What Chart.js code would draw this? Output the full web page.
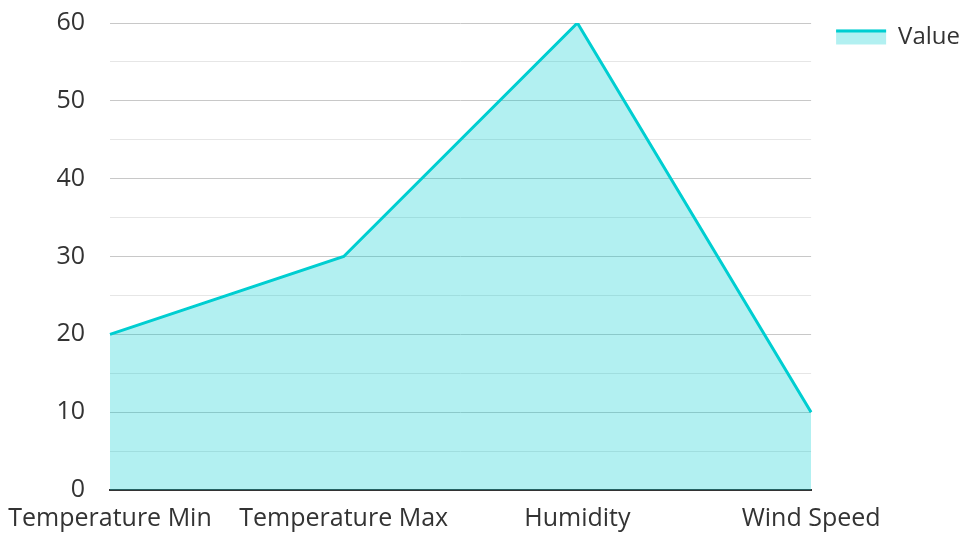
<!DOCTYPE html>
<html>
<head>
<meta charset="utf-8">
<script src="https://cdn.jsdelivr.net/npm/chart.js@4"></script>
<style>
html,body{margin:0;padding:0;background:#fff;}
#wrap{width:961px;height:533px;}
</style>
</head>
<body>
<div id="wrap"><canvas id="c" width="961" height="533"></canvas></div>
<script>
const categories = ["Temperature Min", "Temperature Max", "Humidity", "Wind Speed"];
const values = [20, 30, 60, 10];
const seriesName = "Value";
const yMin = 0, yMax = 60, yStep = 5, yLabelStep = 10;

const lineColor = "#00CED1";
const fillColor = "rgba(0,206,209,0.3)";

const legendTopLine = {
  id: "legendTopLine",
  afterDraw(chart) {
    const lg = chart.legend;
    if (!lg || !lg.legendHitBoxes) return;
    const ctx = chart.ctx;
    lg.legendHitBoxes.forEach((hb) => {
      ctx.save();
      ctx.strokeStyle = lineColor;
      ctx.lineWidth = 3;
      ctx.beginPath();
      const y = hb.top + (hb.height - 15) / 2 + 1.5;
      ctx.moveTo(hb.left, y);
      ctx.lineTo(hb.left + 50, y);
      ctx.stroke();
      ctx.restore();
    });
  }
};

Chart.defaults.font.family = "'Open Sans', sans-serif";
Chart.defaults.font.size = 25;
Chart.defaults.color = "#333";

const chart = new Chart(document.getElementById("c"), {
  type: "line",
  data: {
    labels: categories,
    datasets: [{
      label: seriesName,
      data: values,
      borderColor: lineColor,
      backgroundColor: fillColor,
      borderWidth: 3,
      fill: "origin",
      tension: 0,
      pointRadius: 0,
      pointHoverRadius: 0
    }]
  },
  plugins: [legendTopLine],
  options: {
    responsive: false,
    animation: false,
    layout: { padding: { top: 0, right: -9, left: 0, bottom: -7 } },
    plugins: {
      tooltip: { enabled: false },
      legend: {
        position: "right",
        align: "start",
        labels: {
          boxWidth: 50,
          boxHeight: 15,
          padding: 25,
          color: "#333",
          font: { size: 24 },
          generateLabels(chart) {
            return chart.data.datasets.map((ds, i) => ({
              text: ds.label,
              fillStyle: ds.backgroundColor,
              strokeStyle: "rgba(0,0,0,0)",
              lineWidth: 0,
              hidden: false,
              datasetIndex: i,
              fontColor: "#333"
            }));
          }
        }
      }
    },
    scales: {
      x: {
        offset: false,
        grid: { display: false },
        border: { display: true, color: "#333", width: 2 },
        ticks: { padding: 6, color: "#333", maxRotation: 0, autoSkip: false }
      },
      y: {
        min: yMin,
        max: yMax,
        afterFit: (scale) => { scale.width = 110; },
        border: { display: false },
        grid: {
          drawTicks: true,
          tickLength: 17,
          tickColor: "rgba(0,0,0,0)",
          lineWidth: 1,
          color: (ctx) => (ctx.tick && ctx.tick.value % yLabelStep === 0) ? "#c8c8c8" : "#e6e6e6"
        },
        ticks: {
          stepSize: yStep,
          padding: 8,
          color: "#333",
          callback: (v) => (v % yLabelStep === 0 ? String(v) : "")
        }
      }
    }
  }
});
</script>
</body>
</html>
